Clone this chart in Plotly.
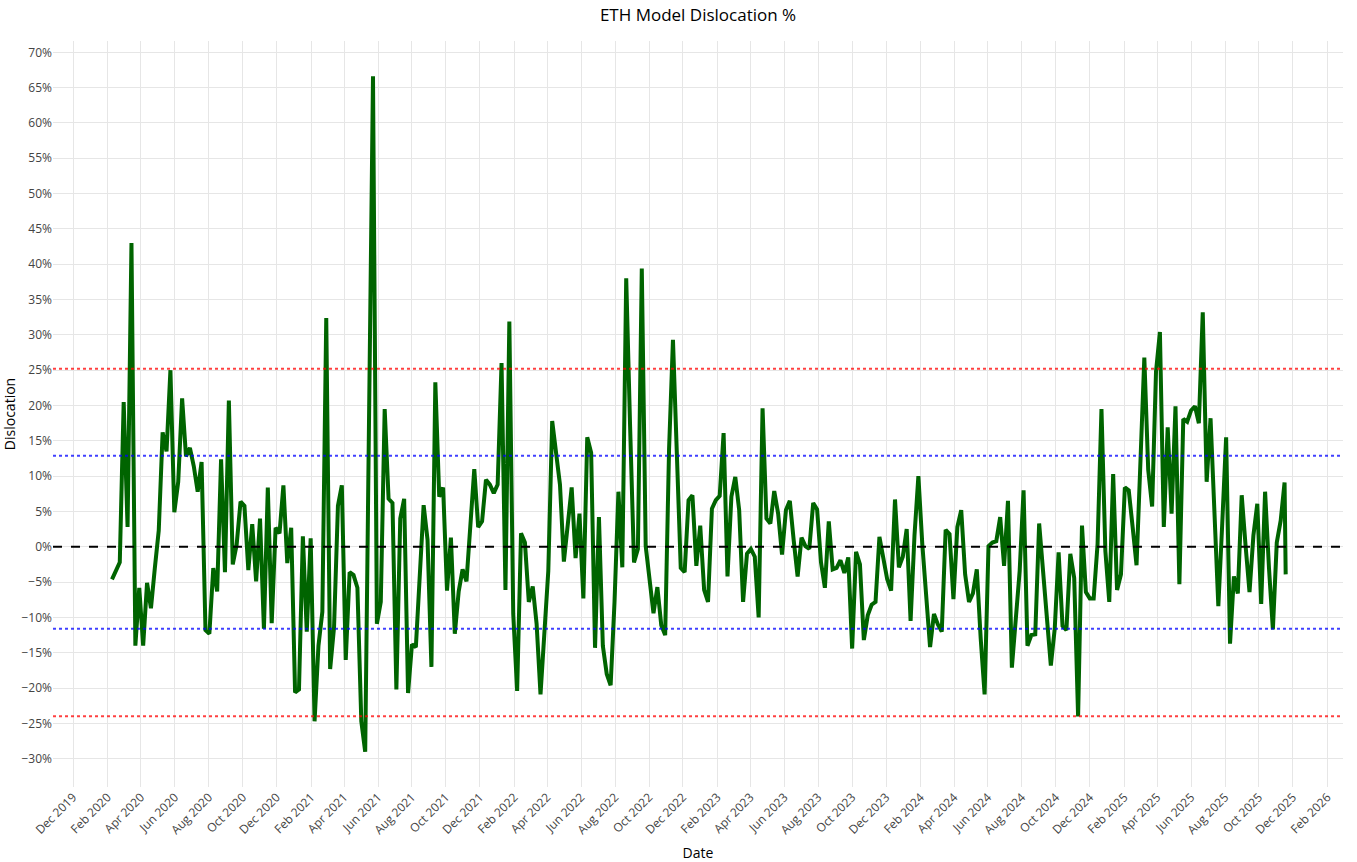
import pandas as pd
import plotly.graph_objects as go

# Weekly dislocation readings (%), Feb 2020 -> Nov 2025
dislocation = [
    -4.6, -3.4, -2.2, 20.5, 2.8, 43.0, -14.0, -5.8, -14.0, -5.1,
    -8.7, -3.0, 2.3, 16.2, 13.5, 25.0, 4.9, 9.2, 21.0, 12.8,
    14.0, 11.4, 7.8, 12.0, -11.8, -12.3, -3.0, -6.3, 12.4, -3.6,
    20.7, -2.5, 0.3, 6.4, 5.8, -3.3, 3.2, -4.9, 4.0, -11.6,
    8.4, -10.8, 2.7, 1.9, 8.7, -2.3, 2.7, -20.6, -20.2, 1.5,
    -12.0, 1.2, -24.7, -14.0, -9.2, 32.4, -17.3, -11.4, 5.8, 8.7,
    -16.0, -3.6, -4.0, -5.8, -24.7, -29.0, 19.0, 66.6, -10.9, -7.8,
    19.5, 6.8, 6.2, -20.2, 4.0, 6.8, -20.7, -13.8, -14.2, -4.0,
    5.9, 1.0, -17.0, 23.3, 7.1, 8.4, -6.2, 1.3, -12.3, -6.3,
    -3.2, -4.9, 3.0, 11.0, 2.8, 3.6, 9.5, 8.8, 7.6, 8.8,
    26.0, -6.1, 31.9, -9.5, -20.4, 1.9, 0.6, -7.8, -5.6, -10.9,
    -20.9, -12.0, -3.4, 17.8, 13.5, 8.8, -2.1, 3.0, 8.4, -1.6,
    4.7, -7.3, 15.5, 13.3, -14.3, 4.2, -14.0, -18.0, -19.6, -7.8,
    7.8, -2.9, 38.0, 17.0, -2.2, -0.3, 39.4, 0.1, -4.4, -9.4,
    -5.7, -11.1, -12.5, 13.8, 29.3, 13.0, -3.0, -3.6, 6.6, 7.3,
    -2.7, 3.0, -6.1, -7.8, 5.4, 6.6, 7.2, 16.1, -4.2, 7.1,
    9.9, 5.2, -7.8, -1.0, -0.3, -1.4, -10.0, 19.6, 4.0, 3.3,
    7.9, 4.7, -1.1, 5.2, 6.5, 0.9, -4.2, 1.3, 0.1, -0.3,
    6.2, 5.3, -2.2, -5.8, 3.6, -3.2, -3.0, -1.9, -3.7, -1.5,
    -14.4, -0.7, -2.5, -13.2, -9.7, -8.2, -7.8, 1.4, -1.8, -4.6,
    -6.2, 6.7, -2.9, -1.4, 2.5, -10.5, 1.6, 10.0, 0.4, -7.8,
    -14.2, -9.5, -11.0, -12.0, 2.4, 1.8, -7.4, 2.8, 5.2, -3.9,
    -7.8, -6.6, -3.2, -13.0, -20.9, 0.1, 0.6, 0.8, 4.2, -2.7,
    6.5, -17.1, -9.7, -3.4, 8.0, -14.0, -12.5, -12.4, 3.3, -3.0,
    -9.7, -16.8, -11.6, -0.8, -11.2, -11.8, -1.0, -4.4, -24.0, 3.0,
    -6.4, -7.3, -7.3, 0.4, 19.5, -0.6, -7.8, 10.3, -6.1, -3.9,
    8.4, 8.0, 2.8, -2.6, 12.0, 26.8, 10.9, 5.7, 24.8, 30.4,
    2.8, 16.9, 4.7, 19.9, -5.3, 18.1, 17.7, 19.3, 19.9, 17.5,
    33.2, 9.2, 18.2, 5.2, -8.4, 3.3, 15.5, -13.7, -4.2, -6.6,
    7.3, 0.1, -6.4, 1.6, 6.1, -8.1, 7.8, -3.0, -11.7, 0.6,
    3.7, 9.1, -3.9,
]

dates = list(pd.date_range("2020-02-09", periods=len(dislocation) - 1, freq="7D"))
dates.append(pd.Timestamp("2025-11-18"))

# Reference bands (%)
zero_level = 0.0
upper_2sd = 25.2
upper_1sd = 12.9
lower_1sd = -11.6
lower_2sd = -24.0

x_range = ["2019-10-26", "2026-03-01"]

fig = go.Figure()
fig.add_trace(go.Scatter(
    x=dates, y=dislocation, mode="lines",
    line=dict(color="#006400", width=4),
    name="Dislocation", showlegend=False,
))

fig.add_hline(y=zero_level, line=dict(color="black", width=2, dash="dash"))
for lvl in (upper_2sd, lower_2sd):
    fig.add_hline(y=lvl, line=dict(color="rgba(255,0,0,0.75)", width=2, dash="dot"))
for lvl in (upper_1sd, lower_1sd):
    fig.add_hline(y=lvl, line=dict(color="rgba(0,0,255,0.75)", width=2, dash="dot"))

fig.update_layout(
    width=1357, height=862,
    paper_bgcolor="white", plot_bgcolor="white",
    font=dict(family="Open Sans, verdana, arial, sans-serif", size=12, color="#444"),
    title=dict(text="ETH Model Dislocation %", x=0.5, xref="paper", xanchor="center",
               y=1 - 15 / 862, yref="container", yanchor="middle",
               font=dict(size=17, color="black")),
    margin=dict(l=53, r=14, t=41, b=75),
    xaxis=dict(
        title=dict(text="Date", font=dict(size=14, color="black")),
        type="date", range=x_range,
        tick0="2019-12-01", dtick="M2", tickformat="%b %Y", tickangle=-45,
        showgrid=True, gridcolor="#e6e6e6", zeroline=False,
        showline=False, automargin=False,
    ),
    yaxis=dict(
        title=dict(text="Dislocation", font=dict(size=14, color="black")),
        range=[min(dislocation) - 5, max(dislocation) + 5],
        dtick=5, ticksuffix="%",
        showgrid=True, gridcolor="#e6e6e6", zeroline=False,
        showline=False, automargin=False,
    ),
)

fig.write_html("out.html")
